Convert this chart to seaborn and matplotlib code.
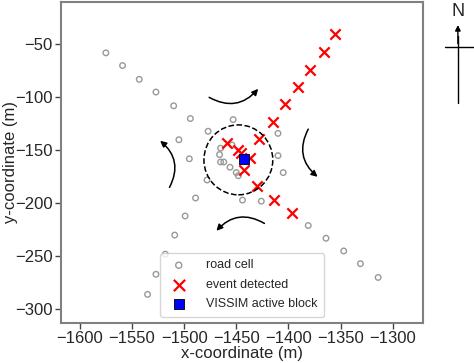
import pandas as pd
import seaborn as sns
import matplotlib.pyplot as plt
from matplotlib.patches import Circle

sns.set_style('white')
plt.rcParams['font.family'] = ['Liberation Sans', 'DejaVu Sans']

# road cells (grey open circles)
road_x = [-1575, -1559, -1543, -1527, -1510, -1494, -1477,
          -1478, -1489, -1499, -1509, -1518, -1527, -1535,
          -1381, -1364, -1347, -1331, -1314,
          -1453, -1505, -1495, -1410, -1410, -1405, -1426, -1444,
          -1465, -1466, -1465, -1462, -1456, -1450, -1448, -1454]
road_y = [-58, -70, -83, -95, -108, -120, -132,
          -178, -195, -212, -230, -248, -267, -286,
          -221, -233, -245, -257, -270,
          -121, -140, -158, -134, -155, -171, -198, -197,
          -148, -154, -161, -161, -166, -171, -174, -145]

# cells where an event was detected
event_x = [-1355, -1366, -1379, -1391, -1403, -1415, -1428, -1437, -1443,
           -1459, -1448, -1445, -1430, -1414, -1397]
event_y = [-40, -57, -74, -90, -106, -123, -139, -157, -169,
           -143, -150, -153, -184, -197, -209]

# VISSIM active block
block_x = [-1443]
block_y = [-158]

zone_center = (-1448, -159)
zone_radius = 33

road = pd.DataFrame({'x': road_x, 'y': road_y})
event = pd.DataFrame({'x': event_x, 'y': event_y})
block = pd.DataFrame({'x': block_x, 'y': block_y})

fig = plt.figure(figsize=(4.74, 3.63), dpi=100)
ax = fig.add_axes([0.1287, 0.1102, 0.7637, 0.8843])

sns.scatterplot(road, x='x', y='y', ax=ax, marker='o', s=16, facecolor='none',
                edgecolor='#999999', linewidth=1, label='road cell')
sns.scatterplot(event, x='x', y='y', ax=ax, marker='x', s=55, color='red',
                linewidth=1.6, label='event detected')
sns.scatterplot(block, x='x', y='y', ax=ax, marker='s', s=45, color='blue',
                edgecolor='black', linewidth=0.6, label='VISSIM active block', zorder=5)

ax.add_patch(Circle(zone_center, zone_radius, fill=False, ls='--', lw=1.1, color='black'))

# circulation arrows
arrows = [((-1476, -100), (-1429, -92)),
          ((-1381, -130), (-1372, -175)),
          ((-1423, -219), (-1469, -226)),
          ((-1514, -185), (-1523, -141))]
for start, end in arrows:
    ax.annotate('', xy=end, xytext=start,
                arrowprops=dict(arrowstyle='-|>', connectionstyle='arc3,rad=0.4',
                                color='black', lw=1.1, mutation_scale=9,
                                shrinkA=0, shrinkB=0))

ax.set_xlim(-1618, -1271)
ax.set_ylim(-313, -10)
ax.set_xticks([-1600, -1550, -1500, -1450, -1400, -1350, -1300])
ax.set_yticks([-50, -100, -150, -200, -250, -300])
ax.set_xlabel('x-coordinate (m)', fontsize=12, labelpad=0)
ax.set_ylabel('y-coordinate (m)', fontsize=12)
ax.yaxis.set_label_coords(-0.118, 0.5)
ax.tick_params(labelsize=12, length=4, width=1, color='#444444', pad=2, bottom=True, left=True)
for sp in ax.spines.values():
    sp.set_color('#808080')
    sp.set_linewidth(1.5)

ax.legend(loc='lower center', fontsize=9, frameon=True, borderpad=0.5,
          handletextpad=1.2, labelspacing=0.6, markerscale=1.1)

# north arrow outside the axes
fig.add_artist(plt.Line2D([0.939, 1.0], [0.870, 0.870], color='black', lw=1, transform=fig.transFigure))
fig.add_artist(plt.Line2D([0.966, 0.966], [0.716, 0.90], color='black', lw=1, transform=fig.transFigure))
ax.annotate('', xy=(0.966, 0.931), xytext=(0.966, 0.88), xycoords='figure fraction',
            arrowprops=dict(arrowstyle='-|>', color='black', lw=1, mutation_scale=8,
                            shrinkA=0, shrinkB=0))
fig.text(0.966, 0.967, 'N', ha='center', va='center', fontsize=13)

fig.savefig('out.png', dpi=100)
